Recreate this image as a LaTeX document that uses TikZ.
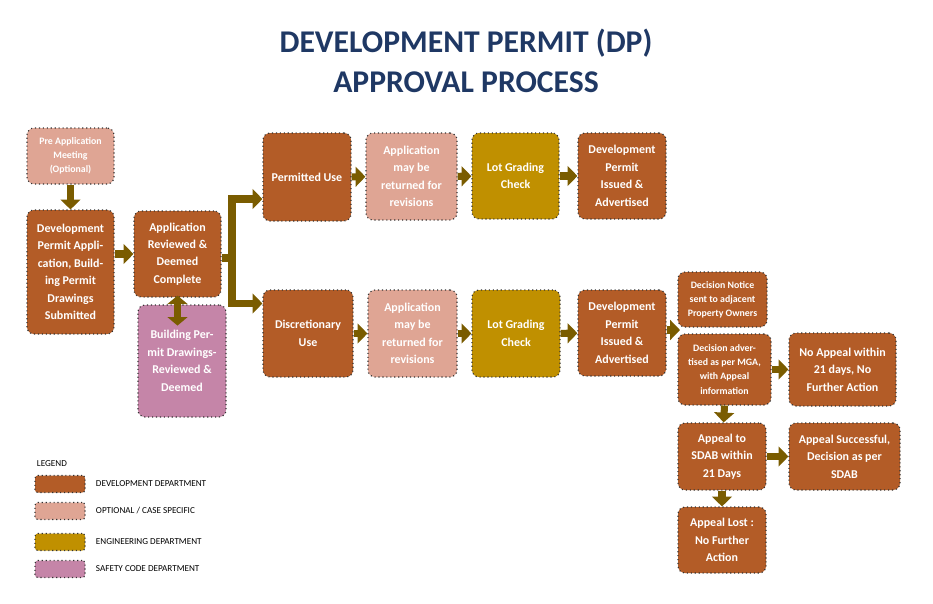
\documentclass[tikz,border=0pt]{standalone}
\usepackage{fontspec}
\setmainfont{Carlito}
\usetikzlibrary{arrows.meta}
\definecolor{devbrown}{HTML}{B35C27}
\definecolor{optpink}{HTML}{DFA594}
\definecolor{enggold}{HTML}{C09000}
\definecolor{safemauve}{HTML}{C585A8}
\definecolor{arrowolive}{HTML}{7A5C00}
\definecolor{titleblue}{HTML}{1F3864}
\begin{document}
\begin{tikzpicture}[x=0.025cm,y=-0.025cm,
    box/.style={draw=black!80,dotted,thick,rounded corners=5pt,text=white,align=center,
      font=\bfseries\fontsize{8.5}{12.4}\selectfont,inner sep=1pt},
    dev/.style={box,fill=devbrown},
    opt/.style={box,fill=optpink},
    eng/.style={box,fill=enggold},
    safe/.style={box,fill=safemauve},
    small/.style={font=\bfseries\fontsize{7}{10}\selectfont},
    fat/.style={draw=arrowolive!70!black,line width=5pt,arrowolive,-{Triangle[length=7pt,width=14pt]}},
    fatline/.style={draw=arrowolive,line width=5pt},
    legtext/.style={font=\fontsize{6.5}{8}\selectfont,anchor=west}]
  \useasboundingbox (0,0) rectangle (933,604);
  % Title
  \node[font=\bfseries\fontsize{22.5}{28}\selectfont,text=titleblue,align=center] (title) at (466,61)
    {DEVELOPMENT PERMIT (DP)\\APPROVAL PROCESS};

  % Left column
  \node[opt,small,minimum width=87*0.025cm,minimum height=56*0.025cm] (pre) at (70.5,156)
    {Pre Application\\Meeting\\(Optional)};
  \node[dev,minimum width=87*0.025cm,minimum height=124*0.025cm] (dpa) at (70.5,272)
    {Development\\Permit Appli-\\cation, Build-\\ing Permit\\Drawings\\Submitted};
  \node[dev,minimum width=87*0.025cm,minimum height=86*0.025cm] (arc) at (177.5,254)
    {Application\\Reviewed \&\\Deemed\\Complete};
  \node[safe,minimum width=88*0.025cm,minimum height=112*0.025cm] (bp) at (182,361)
    {Building Per-\\mit Drawings-\\Reviewed \&\\Deemed};

  % Permitted use row
  \node[dev,minimum width=88*0.025cm,minimum height=88*0.025cm] (pu) at (307,177) {Permitted Use};
  \node[opt,minimum width=91*0.025cm,minimum height=87*0.025cm] (ar1) at (411.5,176.5)
    {Application\\may be\\returned for\\revisions};
  \node[eng,minimum width=87*0.025cm,minimum height=86*0.025cm] (lg1) at (515.5,176) {Lot Grading\\Check};
  \node[dev,minimum width=88*0.025cm,minimum height=86*0.025cm] (dpi1) at (622,176)
    {Development\\Permit\\Issued \&\\Advertised};

  % Discretionary use row
  \node[dev,minimum width=90*0.025cm,minimum height=87*0.025cm] (du) at (308,333.5) {Discretionary\\Use};
  \node[opt,minimum width=89*0.025cm,minimum height=87*0.025cm] (ar2) at (412.5,333.5)
    {Application\\may be\\returned for\\revisions};
  \node[eng,minimum width=88*0.025cm,minimum height=87*0.025cm] (lg2) at (516,333.5) {Lot Grading\\Check};
  \node[dev,minimum width=88*0.025cm,minimum height=86*0.025cm] (dpi2) at (622,333)
    {Development\\Permit\\Issued \&\\Advertised};

  % Decision column
  \node[dev,small,minimum width=89*0.025cm,minimum height=55*0.025cm] (dn) at (722.5,299.5)
    {Decision Notice\\sent to adjacent\\Property Owners};
  \node[dev,small,minimum width=93*0.025cm,minimum height=71*0.025cm] (da) at (724.5,369.5)
    {Decision adver-\\tised as per MGA,\\with Appeal\\information};
  \node[dev,minimum width=107*0.025cm,minimum height=73*0.025cm] (na) at (842.5,369.5)
    {No Appeal within\\21 days, No\\Further Action};
  \node[dev,minimum width=88*0.025cm,minimum height=67*0.025cm] (as) at (722,456.5)
    {Appeal to\\SDAB within\\21 Days};
  \node[dev,minimum width=111*0.025cm,minimum height=67*0.025cm] (asu) at (844.5,456.5)
    {Appeal Successful,\\Decision as per\\SDAB};
  \node[dev,minimum width=88*0.025cm,minimum height=66*0.025cm] (al) at (722,540)
    {Appeal Lost :\\No Further\\Action};

  % Arrows
  \draw[fat] (pre) -- (dpa);
  \draw[fat] (dpa.east |- arc) -- (arc);
  \draw[fat,{Triangle[length=6pt,width=14pt]}-{Triangle[length=6pt,width=14pt]}]
    ([yshift=0.05cm]arc.south) -- ([yshift=-0.7cm]arc.south -| arc.south);
  \coordinate (split) at (232,258);
  \draw[fatline] (arc.east |- split) -- (split);
  \draw[fat] (split) |- ([yshift=-0.55cm]pu.west);
  \draw[fat] (split) |- ([yshift=0.75cm]du.west);
  \draw[fat] (pu) -- (ar1);
  \draw[fat] (ar1) -- (lg1);
  \draw[fat] (lg1) -- (dpi1);
  \draw[fat] (du) -- (ar2);
  \draw[fat] (ar2) -- (lg2);
  \draw[fat] (lg2) -- (dpi2);
  \coordinate (dnda) at (680,330);
  \draw[fat] (dpi2.east |- dnda) -- (dnda);
  \draw[fat] (da.east |- na) -- (na);
  \draw[fat] (da.south |- da.south) -- (as);
  \draw[fat] (as) -- (asu);
  \draw[fat] (as) -- (al);

  % Legend
  \node[legtext] (legend) at (32,464) {LEGEND};
  \foreach \y/\s/\t/\n in {484/dev/{DEVELOPMENT DEPARTMENT}/ldev,
                          511/opt/{OPTIONAL / CASE SPECIFIC}/lopt,
                          542/eng/{ENGINEERING DEPARTMENT}/leng,
                          569/safe/{SAFETY CODE DEPARTMENT}/lsafe}{
    \node[\s,minimum width=50*0.025cm,minimum height=17*0.025cm,rounded corners=2pt] (\n) at (60,\y) {};
    \node[legtext] at (91,\y) {\t};
  }
\end{tikzpicture}
\end{document}
